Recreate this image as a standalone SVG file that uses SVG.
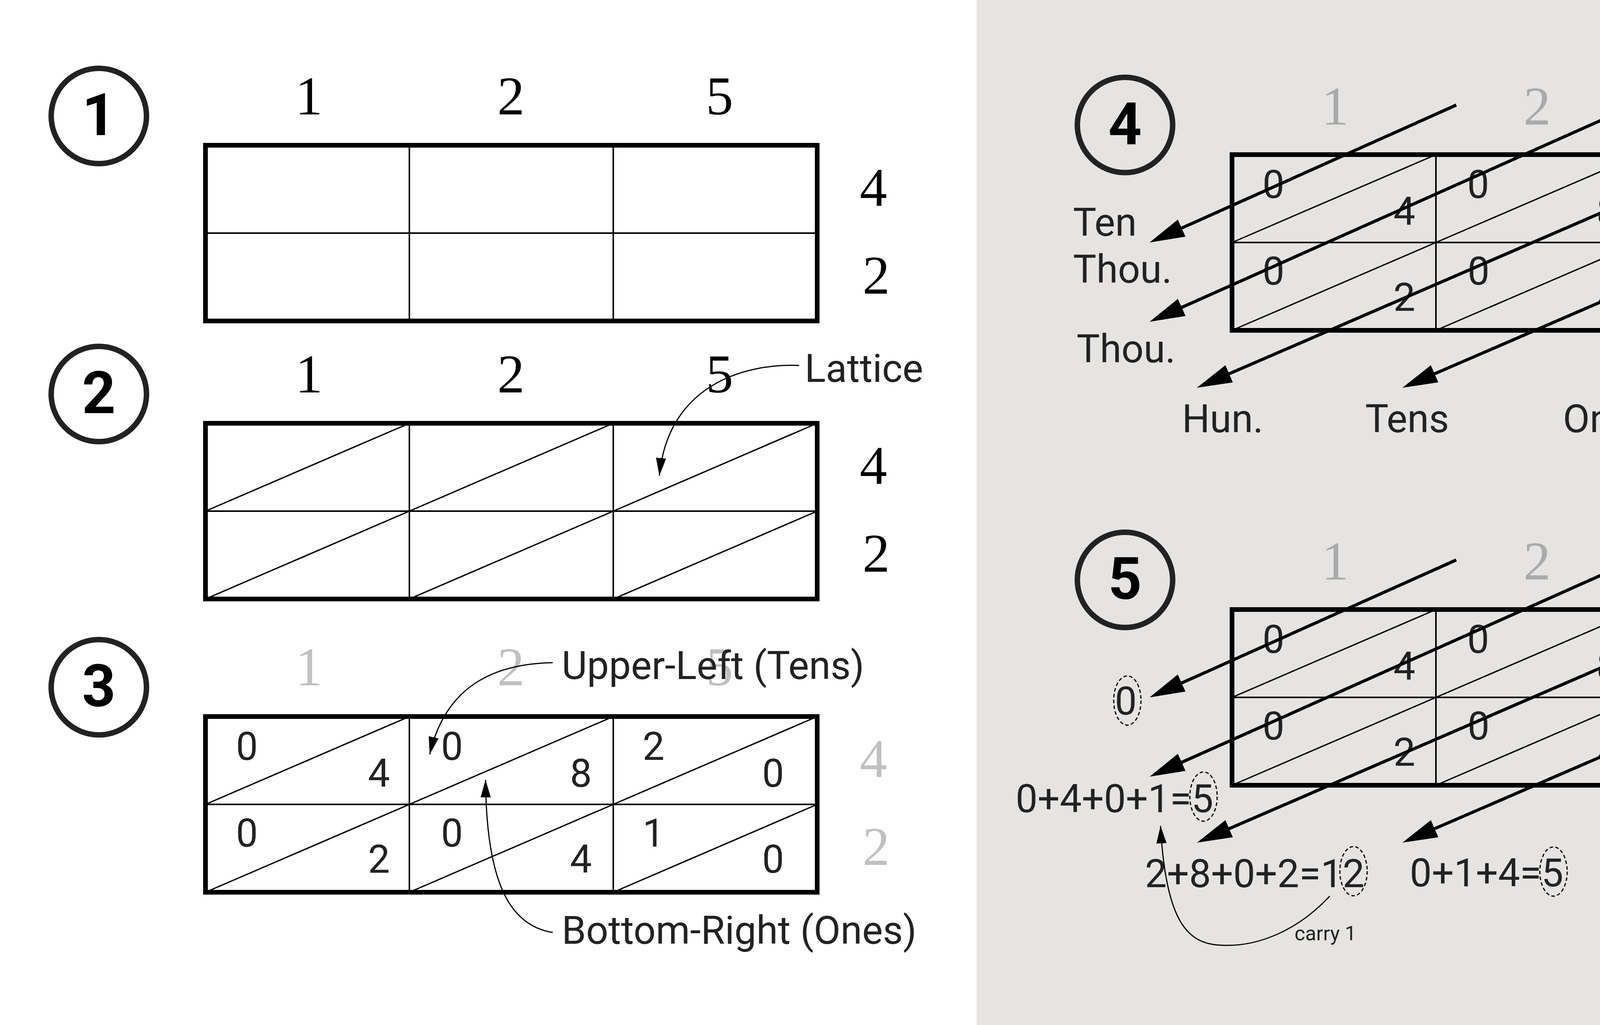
<svg xmlns="http://www.w3.org/2000/svg" width="5000" height="2625" viewBox="0 0 5000 2625">
<defs>
<style>
.frame{fill:none;stroke:#000;stroke-width:12}
.grid{fill:none;stroke:#000;stroke-width:4}
.diag{fill:none;stroke:#000;stroke-width:3.5}
.num{font-family:Roboto,"Liberation Sans",sans-serif;font-size:100px;fill:#222;text-anchor:middle}
.lbl{font-family:Roboto,"Liberation Sans",sans-serif;font-size:100px;fill:#222}
.serif{font-family:"Liberation Serif","Times New Roman",serif;font-size:140px;fill:#000;text-anchor:middle}
.g1{fill:#c0c0c0}
.g2{fill:#aaaaaa}
.badge circle{fill:none;stroke:#222;stroke-width:14}
.badge text{font-family:Roboto,"Liberation Sans",sans-serif;font-weight:700;font-size:150px;fill:#000;text-anchor:middle}
.thick{fill:none;stroke:#000;stroke-width:8;marker-end:url(#bigArrow)}
.thin{fill:none;stroke:#000;stroke-width:3;marker-end:url(#smallArrow)}
.dash{fill:none;stroke:#000;stroke-width:3;stroke-dasharray:9 6}
</style>
<marker id="bigArrow" markerUnits="userSpaceOnUse" markerWidth="92" markerHeight="50" viewBox="0 0 92 50" refX="30" refY="25" orient="auto">
<path d="M0,1 L90,25 L0,49 Z" fill="#000"/>
</marker>
<marker id="smallArrow" markerUnits="userSpaceOnUse" markerWidth="46" markerHeight="28" viewBox="0 0 46 28" refX="45" refY="14" orient="auto">
<path d="M0,1 L45,14 L0,27 Z" fill="#000"/>
</marker>
<path id="gridLines" d="M0,225 H1566 M522,0 V450 M1044,0 V450"/>
<path id="diagLines" d="M0,225 L522,0 M522,225 L1044,0 M1044,225 L1566,0 M0,450 L522,225 M522,450 L1044,225 M1044,450 L1566,225"/>
</defs>
<rect x="0" y="0" width="5000" height="2625" fill="#fff"/>
<path id="rightPanelBg" d="M2500,0 H4720 A280,300 0 0 1 5000,300 V2365 A260,260 0 0 1 4740,2625 H2500 Z" fill="#e5e4e2"/>

<g id="panel1" transform="translate(526,372)">
<g class="badge"><circle cx="-273" cy="-75" r="122"/><text x="-273" y="-26">1</text></g>
<text class="serif" x="265" y="-79">1</text>
<text class="serif" x="782" y="-79">2</text>
<text class="serif" x="1316" y="-79">5</text>
<text class="serif" x="1710" y="155">4</text>
<text class="serif" x="1717" y="380">2</text>
<use href="#gridLines" class="grid"/>
<rect class="frame" x="0" y="0" width="1566" height="450"/>
</g>

<g id="panel2" transform="translate(526,1084)">
<g class="badge"><circle cx="-273" cy="-75" r="122"/><text x="-273" y="-26">2</text></g>
<text class="serif" x="265" y="-79">1</text>
<text class="serif" x="782" y="-79">2</text>
<text class="serif" x="1316" y="-79">5</text>
<text class="serif" x="1710" y="155">4</text>
<text class="serif" x="1717" y="380">2</text>
<use href="#gridLines" class="grid"/>
<use href="#diagLines" class="diag"/>
<rect class="frame" x="0" y="0" width="1566" height="450"/>
</g>
<g id="label-lattice"><text class="lbl" x="2060" y="978">Lattice</text></g>

<g id="panel3" transform="translate(526,1835)">
<g class="badge"><circle cx="-273" cy="-75" r="122"/><text x="-273" y="-26">3</text></g>
<text class="serif g1" x="265" y="-80">1</text>
<text class="serif g1" x="782" y="-80">2</text>
<text class="serif g1" x="1316" y="-80">5</text>
<text class="serif g1" x="1710" y="155">4</text>
<text class="serif g1" x="1717" y="380">2</text>
<use href="#gridLines" class="grid"/>
<use href="#diagLines" class="diag"/>
<rect class="frame" x="0" y="0" width="1566" height="450"/>
<text class="num" x="106" y="111">0</text><text class="num" x="444" y="180">4</text>
<text class="num" x="631" y="111">0</text><text class="num" x="961" y="180">8</text>
<text class="num" x="1147" y="111">2</text><text class="num" x="1453" y="180">0</text>
<text class="num" x="106" y="333">0</text><text class="num" x="444" y="400">2</text>
<text class="num" x="631" y="333">0</text><text class="num" x="961" y="400">4</text>
<text class="num" x="1147" y="333">1</text><text class="num" x="1453" y="400">0</text>
</g>
<g id="label-upper-left"><text class="lbl" x="1438" y="1739">Upper-Left (Tens)</text></g>
<g id="label-bottom-right"><text class="lbl" x="1438" y="2417">Bottom-Right (Ones)</text></g>

<g id="panel4" transform="translate(3154,396)">
<g class="badge"><circle cx="-274" cy="-76" r="122"/><text x="-274" y="-27">4</text></g>
<text class="serif g2" x="264" y="-77">1</text>
<text class="serif g2" x="781" y="-77">2</text>
<text class="serif g2" x="1316" y="-77">5</text>
<text class="serif g2" x="1708" y="156">4</text>
<text class="serif g2" x="1716" y="381">2</text>
<use href="#gridLines" class="grid"/>
<use href="#diagLines" class="diag"/>
<rect class="frame" x="0" y="0" width="1564" height="450"/>
<text class="num" x="106" y="111">0</text><text class="num" x="441" y="180">4</text>
<text class="num" x="630" y="111">0</text><text class="num" x="961" y="180">8</text>
<text class="num" x="1146" y="111">2</text><text class="num" x="1453" y="180">0</text>
<text class="num" x="106" y="333">0</text><text class="num" x="441" y="400">2</text>
<text class="num" x="631" y="333">0</text><text class="num" x="962" y="400">4</text>
<text class="num" x="1145" y="333">1</text><text class="num" x="1453" y="400">0</text>
</g>
<g id="panel4-labels">
<text class="lbl" x="2747" y="604">Ten</text>
<text class="lbl" x="2747" y="724">Thou.</text>
<text class="lbl" x="2756" y="928">Thou.</text>
<text class="lbl" x="3026" y="1107">Hun.</text>
<text class="lbl" x="3495" y="1107">Tens</text>
<text class="lbl" x="4001" y="1107">Ones</text>
</g>

<g id="panel5" transform="translate(3154,1561)">
<g class="badge"><circle cx="-274" cy="-76" r="122"/><text x="-274" y="-27">5</text></g>
<text class="serif g2" x="264" y="-77">1</text>
<text class="serif g2" x="781" y="-77">2</text>
<text class="serif g2" x="1316" y="-77">5</text>
<text class="serif g2" x="1708" y="156">4</text>
<text class="serif g2" x="1716" y="381">2</text>
<use href="#gridLines" class="grid"/>
<use href="#diagLines" class="diag"/>
<rect class="frame" x="0" y="0" width="1564" height="450"/>
<text class="num" x="106" y="111">0</text><text class="num" x="441" y="180">4</text>
<text class="num" x="630" y="111">0</text><text class="num" x="961" y="180">8</text>
<text class="num" x="1146" y="111">2</text><text class="num" x="1453" y="180">0</text>
<text class="num" x="106" y="333">0</text><text class="num" x="441" y="400">2</text>
<text class="num" x="631" y="333">0</text><text class="num" x="962" y="400">4</text>
<text class="num" x="1145" y="333">1</text><text class="num" x="1453" y="400">0</text>
</g>
<g id="panel5-sums">
<text class="num" x="2882" y="1830">0</text>
<ellipse class="dash" cx="2886" cy="1794" rx="35" ry="63"/>
<text class="lbl" x="2600" y="2080">0+4+0+1=5</text>
<ellipse class="dash" cx="3081" cy="2040" rx="35" ry="63"/>
<text class="lbl" x="2931" y="2272">2+8+0+2=12</text>
<ellipse class="dash" cx="3465" cy="2231" rx="35" ry="63"/>
<text class="lbl" x="3609" y="2270">0+1+4=5</text>
<ellipse class="dash" cx="3977" cy="2232" rx="35" ry="63"/>
<text class="num" x="4222" y="2270">0</text>
<ellipse class="dash" cx="4223" cy="2232" rx="35" ry="63"/>
<text class="lbl" x="3314" y="2408" style="font-size:52px">carry 1</text>
</g>
<g id="result"><text class="serif" x="4442" y="2420" style="font-size:145px;text-anchor:start">=<tspan dx="49">5250</tspan></text></g>

<g id="connectors">
<path class="thin" d="M2046,936 C1900,930 1710,990 1688,1218"/>
<path class="thin" d="M1415,1697 C1260,1700 1140,1760 1100,1932"/>
<path class="thin" d="M1415,2388 C1300,2370 1245,2250 1243,1997"/>
<path class="thick" d="M3728,269 L2997.7,596.4"/>
<path class="thick" d="M4184,270 L2997.8,799.5"/>
<path class="thick" d="M4776,252 L3119.1,969.2"/>
<path class="thick" d="M4894,429 L3645.1,969.2"/>
<path class="thick" d="M4894,654 L4168.1,968.2"/>
<path class="thick" d="M3728,1434 L2997.7,1761.4"/>
<path class="thick" d="M4184,1435 L2997.8,1964.5"/>
<path class="thick" d="M4776,1417 L3119.1,2134.2"/>
<path class="thick" d="M4894,1594 L3645.1,2134.2"/>
<path class="thick" d="M4894,1819 L4168.1,2133.2"/>
<path class="thin" d="M3404,2295 C3320,2385 3220,2423 3136,2421 C3050,2421 2985,2380 2971,2115"/>
</g>
</svg>
